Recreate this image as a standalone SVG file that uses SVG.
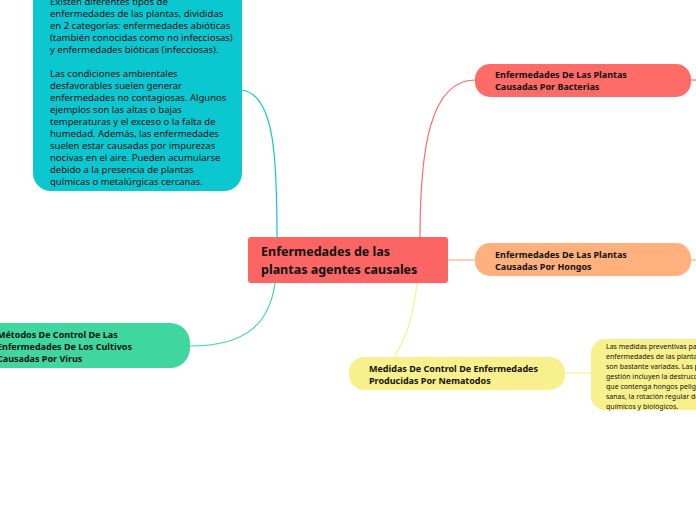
<svg xmlns="http://www.w3.org/2000/svg" width="696" height="520" viewBox="0 0 696 520">
<style>
text{font-family:"Noto Sans","Open Sans",sans-serif;fill:#111}
.b{font-weight:bold;font-size:9px}
.s{font-size:9.5px}
.t{font-size:7px}
.c{fill:none;stroke-width:1.2}
</style>
<rect width="696" height="520" fill="#fff"/>
<g id="connectors">
<path class="c" stroke="#0bc8d0" d="M277,237 C277,160 275,95 242,90"/>
<path class="c" stroke="#3fd6a0" d="M275,283 C270,320 250,346 190,346"/>
<path class="c" stroke="#ff6b66" d="M420,237 C420,150 430,80 475,80"/>
<path class="c" stroke="#ffb07d" d="M448,260 L475,260"/>
<path class="c" stroke="#f8f08c" d="M417,283 C412,330 400,345 395,357"/>
<path class="c" stroke="#f8f08c" d="M565,373 L591,373"/>
<path class="c" stroke="#ff6b66" d="M691,80 L696,80"/>
<path class="c" stroke="#ffb07d" d="M691,260 L696,260"/>
</g>
<g id="central"><rect x="248" y="237" width="200" height="46" rx="3" fill="#fb6563"/>
<text x="261" y="256" font-weight="bold" font-size="12.5">Enfermedades de las</text>
<text x="261" y="274" font-weight="bold" font-size="12.5">plantas agentes causales</text></g>
<g id="info"><rect x="33" y="-20" width="209" height="211" rx="18" fill="#0bc8d0"/>
<text class="s"><tspan x="50" y="5">Existen diferentes tipos de</tspan><tspan x="50" y="17">enfermedades de las plantas, divididas</tspan><tspan x="50" y="29">en 2 categorías: enfermedades abióticas</tspan><tspan x="50" y="41">(también conocidas como no infecciosas)</tspan><tspan x="50" y="53">y enfermedades bióticas (infecciosas).</tspan><tspan x="50" y="77">Las condiciones ambientales</tspan><tspan x="50" y="89">desfavorables suelen generar</tspan><tspan x="50" y="101">enfermedades no contagiosas. Algunos</tspan><tspan x="50" y="113">ejemplos son las altas o bajas</tspan><tspan x="50" y="125">temperaturas y el exceso o la falta de</tspan><tspan x="50" y="137">humedad. Además, las enfermedades</tspan><tspan x="50" y="149">suelen estar causadas por impurezas</tspan><tspan x="50" y="161">nocivas en el aire. Pueden acumularse</tspan><tspan x="50" y="173">debido a la presencia de plantas</tspan><tspan x="50" y="185">químicas o metalúrgicas cercanas.</tspan></text></g>
<g id="virus"><rect x="-20" y="323" width="210" height="45" rx="20" fill="#3fd6a0"/>
<text class="b"><tspan x="-3" y="338">Métodos De Control De Las</tspan><tspan x="-3" y="350">Enfermedades De Los Cultivos</tspan><tspan x="-3" y="362">Causadas Por Virus</tspan></text></g>
<g id="bacterias"><rect x="475" y="64" width="216" height="33" rx="15" fill="#ff6b66"/>
<text class="b"><tspan x="495" y="78">Enfermedades De Las Plantas</tspan><tspan x="495" y="90">Causadas Por Bacterias</tspan></text></g>
<g id="hongos"><rect x="475" y="243" width="216" height="33" rx="15" fill="#ffb07d"/>
<text class="b"><tspan x="495" y="258">Enfermedades De Las Plantas</tspan><tspan x="495" y="270">Causadas Por Hongos</tspan></text></g>
<g id="nematodos"><rect x="349" y="357" width="216" height="33" rx="15" fill="#f8f08c"/>
<text class="b"><tspan x="369" y="372">Medidas De Control De Enfermedades</tspan><tspan x="369" y="384">Producidas Por Nematodos</tspan></text></g>
<g id="nota"><rect x="591" y="339" width="130" height="71" rx="14" fill="#f8f08c"/>
<text class="t"><tspan x="606" y="349">Las medidas preventivas pa</tspan><tspan x="606" y="359">enfermedades de las planta</tspan><tspan x="606" y="369">son bastante variadas. Las p</tspan><tspan x="606" y="379">gestión incluyen la destrucc</tspan><tspan x="606" y="389">que contenga hongos pelig</tspan><tspan x="606" y="399">sanas, la rotación regular de</tspan><tspan x="606" y="409">químicos y biológicos.</tspan></text></g>
</svg>
